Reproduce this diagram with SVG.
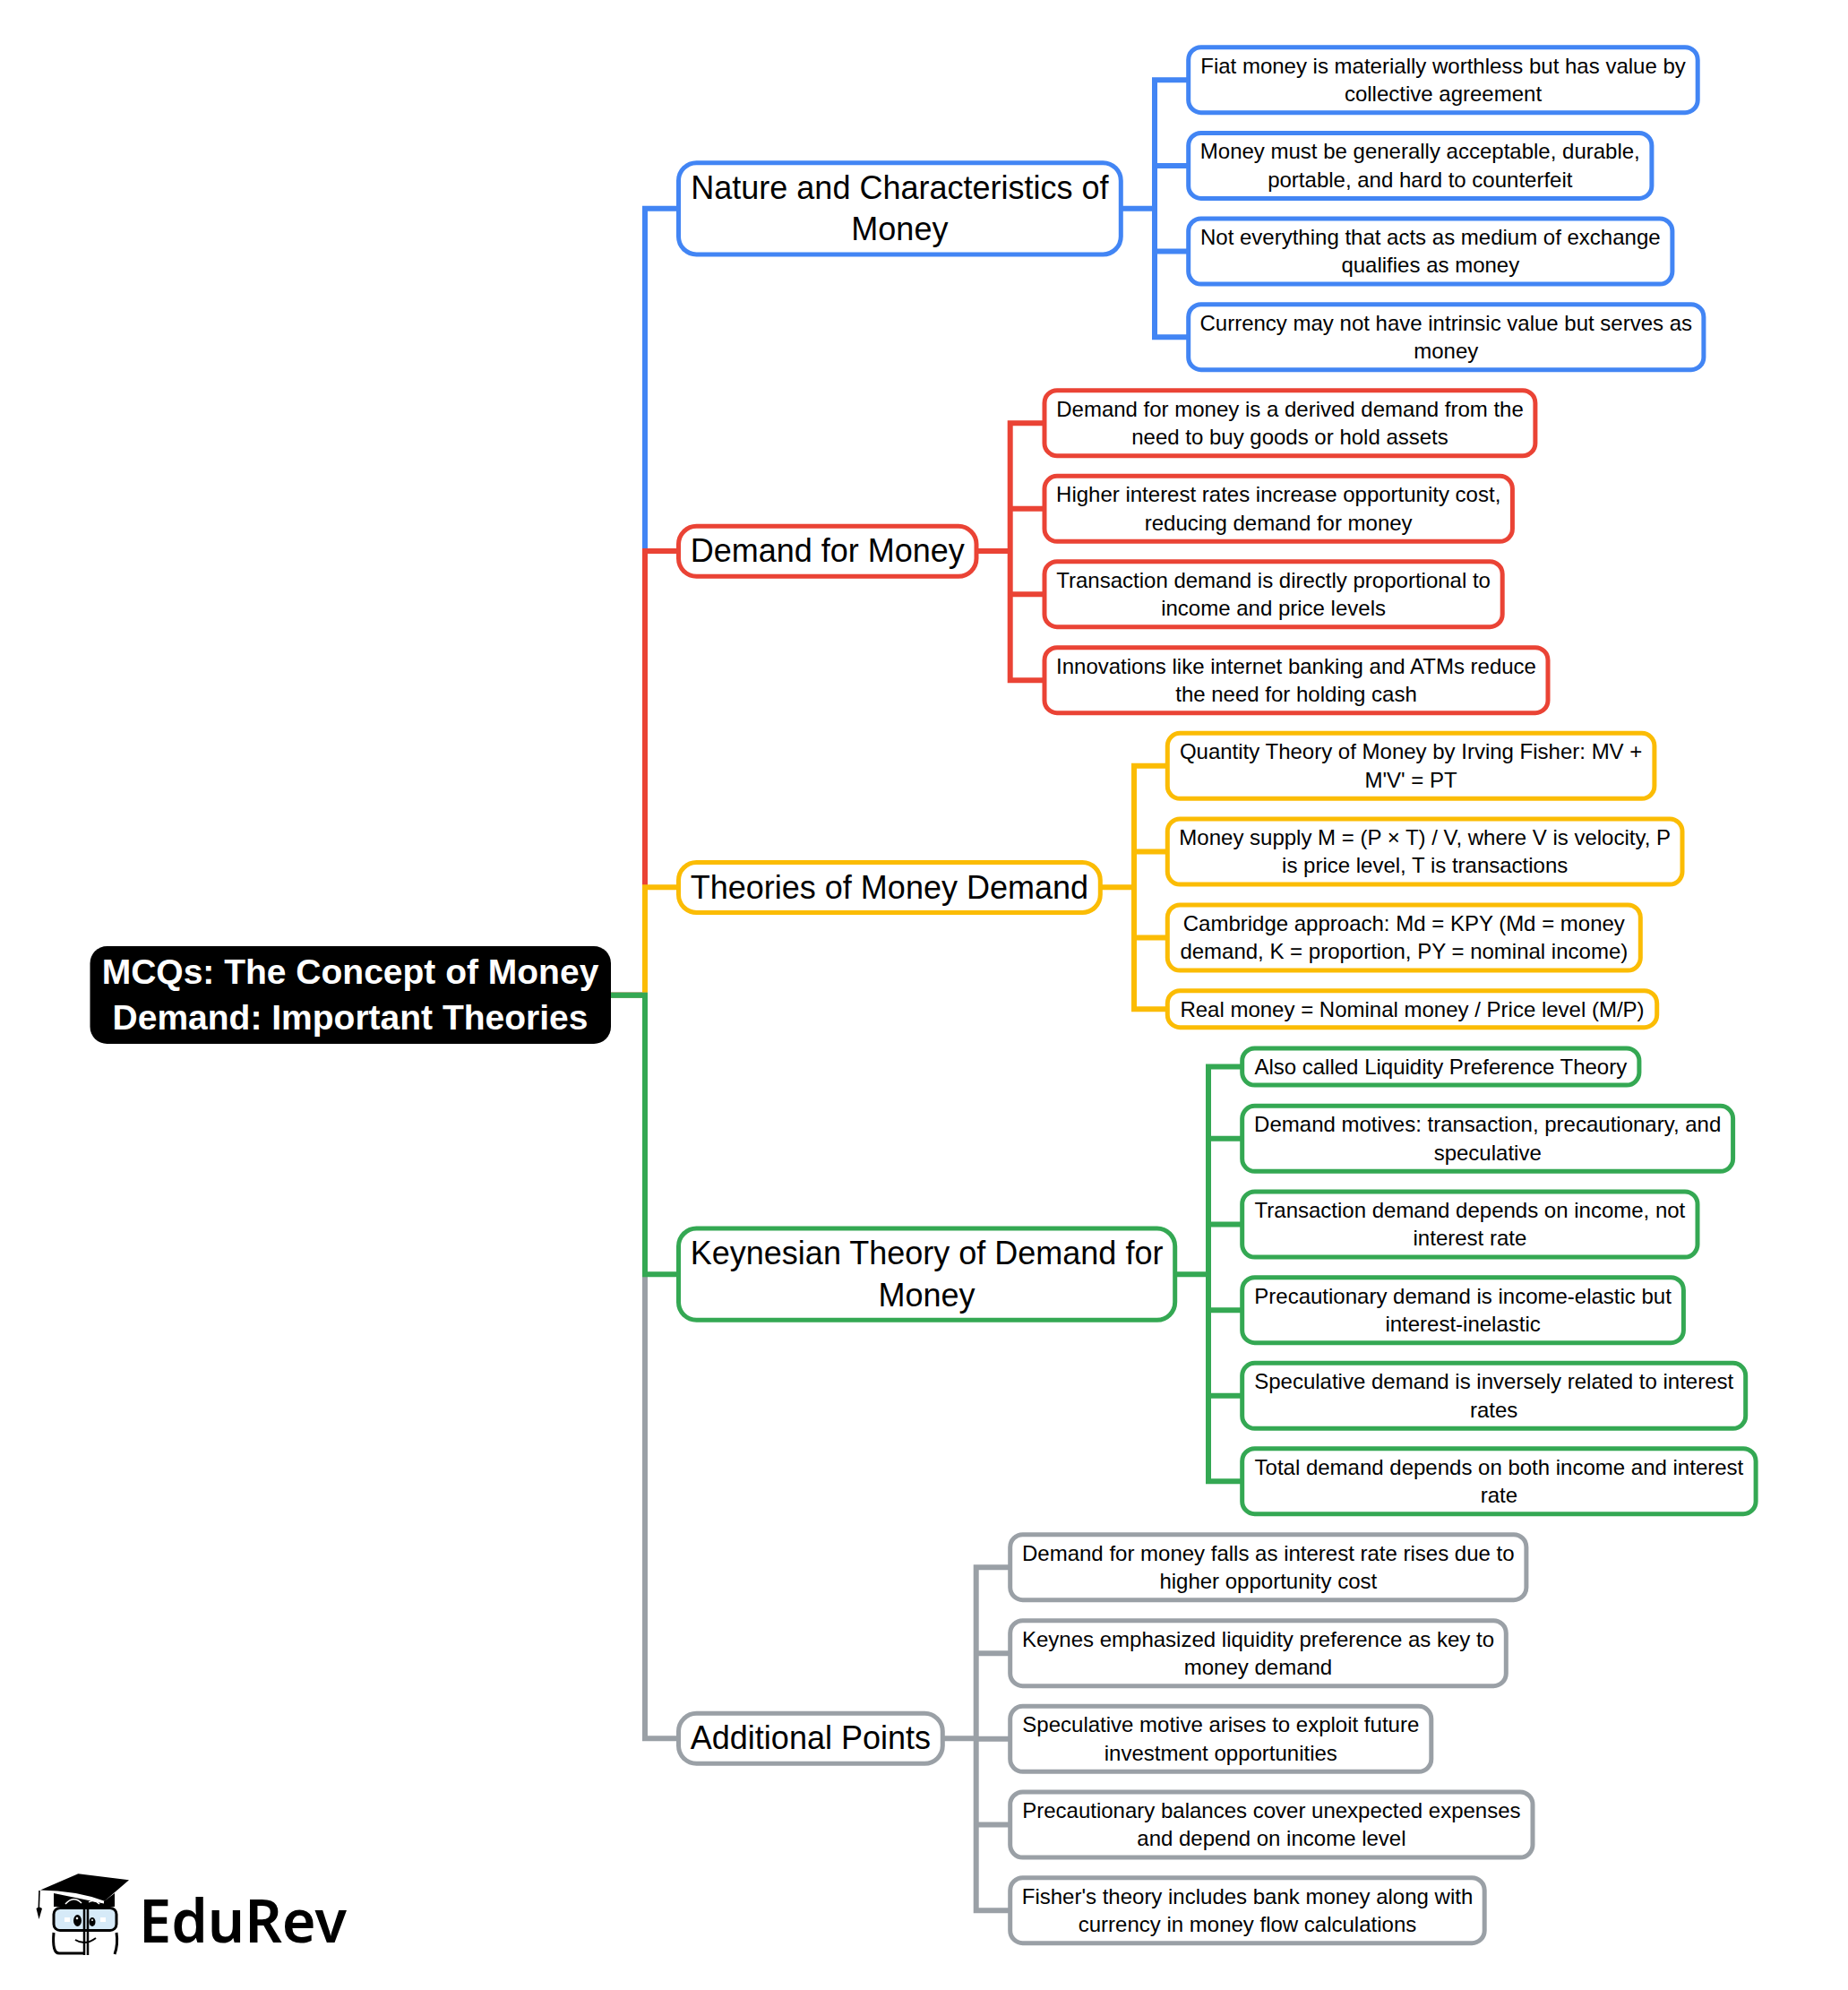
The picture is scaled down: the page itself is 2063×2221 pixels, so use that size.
<svg xmlns="http://www.w3.org/2000/svg" width="2063" height="2221" viewBox="0 0 2063 2221">
<style>
text{font-family:"Liberation Sans",Arial,sans-serif;fill:#000;text-anchor:middle}
.leaf text{font-size:24px}
.leaf rect{fill:#fff;stroke-width:5}
.main text{font-size:36px}
.main rect{fill:#fff;stroke-width:5}
.c{fill:none;stroke-width:6;stroke-linejoin:miter}
.blue rect{stroke:#4285F4}.red rect{stroke:#EA4335}.yellow rect{stroke:#FBBC04}.green rect{stroke:#34A853}.gray rect{stroke:#9AA0A6}
.cb{stroke:#4285F4}.cr{stroke:#EA4335}.cy{stroke:#FBBC04}.cg{stroke:#34A853}.ca{stroke:#9AA0A6}
</style>
<rect width="2063" height="2221" fill="#fff"/>
<g id="connectors">
<path class="c cb" d="M680,1110.7H720V232.8H758M1251,232.8H1289M1327,89.2H1289V376.2H1327M1289,184.9H1327M1289,280.5H1327"/>
<path class="c cr" d="M680,1110.7H720V615H758M1090,615H1127.7M1166,472.2H1127.7V759.2H1166M1127.7,567.8H1166M1127.7,663.2H1166"/>
<path class="c cy" d="M680,1110.7H720V990.3H758M1228,990.3H1266M1303,854.8H1266V1126.2H1303M1266,950.5H1303M1266,1046.5H1303"/>
<path class="c ca" d="M680,1110.7H720V1940.3H758M1052,1940.3H1089.7M1127.7,1749.2H1089.7V2132.2H1127.7M1089.7,1845.2H1127.7M1089.7,1940.8H1127.7M1089.7,2036.5H1127.7"/>
<path class="c cg" d="M680,1110.7H720V1422.3H758M1311,1422.3H1349M1386.7,1190.5H1349V1653.2H1386.7M1349,1270.8H1386.7M1349,1366.5H1386.7M1349,1462.2H1386.7M1349,1557.8H1386.7"/>
</g>
<g id="root"><rect x="100.5" y="1056" width="581.5" height="109" rx="19" fill="#000"/>
<text x="391" y="1098" font-size="39" font-weight="700" style="fill:#fff">MCQs: The Concept of Money</text>
<text x="391" y="1149" font-size="39" font-weight="700" style="fill:#fff">Demand: Important Theories</text></g>

<g id="n1" class="main blue"><rect x="757.5" y="181.7" width="493.8" height="102.3" rx="20"/><text x="1004.4" y="222">Nature and Characteristics of</text><text x="1004.4" y="268">Money</text></g>
<g id="n2" class="main red"><rect x="757.5" y="587.3" width="332.5" height="56" rx="20"/><text x="923.8" y="627.3">Demand for Money</text></g>
<g id="n3" class="main yellow"><rect x="757.5" y="962.5" width="470.8" height="56" rx="20"/><text x="992.9" y="1002.7">Theories of Money Demand</text></g>
<g id="n4" class="main green"><rect x="757.5" y="1371" width="554.2" height="102.3" rx="20"/><text x="1034.6" y="1411.3">Keynesian Theory of Demand for</text><text x="1034.6" y="1458">Money</text></g>
<g id="n5" class="main gray"><rect x="757.5" y="1912.3" width="294.8" height="56" rx="20"/><text x="904.9" y="1952.3">Additional Points</text></g>

<g id="b1" class="leaf blue"><rect x="1326.7" y="52.7" width="568.5" height="73" rx="14"/><text x="1611" y="81.7">Fiat money is materially worthless but has value by</text><text x="1611" y="112.8">collective agreement</text></g>
<g id="b2" class="leaf blue"><rect x="1326.7" y="148.4" width="517.2" height="73" rx="14"/><text x="1585.3" y="177.3">Money must be generally acceptable, durable,</text><text x="1585.3" y="208.5">portable, and hard to counterfeit</text></g>
<g id="b3" class="leaf blue"><rect x="1326.7" y="244" width="540.2" height="73" rx="14"/><text x="1596.8" y="273">Not everything that acts as medium of exchange</text><text x="1596.8" y="304.2">qualifies as money</text></g>
<g id="b4" class="leaf blue"><rect x="1326.7" y="339.7" width="575.2" height="73" rx="14"/><text x="1614.3" y="368.7">Currency may not have intrinsic value but serves as</text><text x="1614.3" y="399.9">money</text></g>

<g id="r1" class="leaf red"><rect x="1166" y="435.7" width="547.9" height="73" rx="14"/><text x="1440" y="464.7">Demand for money is a derived demand from the</text><text x="1440" y="495.9">need to buy goods or hold assets</text></g>
<g id="r2" class="leaf red"><rect x="1166" y="531.3" width="522.4" height="73" rx="14"/><text x="1427.2" y="560.3">Higher interest rates increase opportunity cost,</text><text x="1427.2" y="591.5">reducing demand for money</text></g>
<g id="r3" class="leaf red"><rect x="1166" y="626.7" width="511.2" height="73" rx="14"/><text x="1421.6" y="655.7">Transaction demand is directly proportional to</text><text x="1421.6" y="686.9">income and price levels</text></g>
<g id="r4" class="leaf red"><rect x="1166" y="722.7" width="562" height="73" rx="14"/><text x="1447" y="751.7">Innovations like internet banking and ATMs reduce</text><text x="1447" y="782.9">the need for holding cash</text></g>

<g id="y1" class="leaf yellow"><rect x="1303.3" y="818.3" width="543.6" height="73" rx="14"/><text x="1575.1" y="847.3">Quantity Theory of Money by Irving Fisher: MV +</text><text x="1575.1" y="878.5">M'V' = PT</text></g>
<g id="y2" class="leaf yellow"><rect x="1303.3" y="914" width="574.7" height="73" rx="14"/><text x="1590.7" y="943">Money supply M = (P × T) / V, where V is velocity, P</text><text x="1590.7" y="974.2">is price level, T is transactions</text></g>
<g id="y3" class="leaf yellow"><rect x="1303.3" y="1010" width="528" height="73" rx="14"/><text x="1567.3" y="1039">Cambridge approach: Md = KPY (Md = money</text><text x="1567.3" y="1070.2">demand, K = proportion, PY = nominal income)</text></g>
<g id="y4" class="leaf yellow"><rect x="1303.3" y="1105.7" width="546.4" height="41" rx="14"/><text x="1576.5" y="1134.7">Real money = Nominal money / Price level (M/P)</text></g>

<g id="g1" class="leaf green"><rect x="1386.7" y="1170" width="443.2" height="41" rx="14"/><text x="1608.3" y="1199">Also called Liquidity Preference Theory</text></g>
<g id="g2" class="leaf green"><rect x="1386.7" y="1234.3" width="547.9" height="73" rx="14"/><text x="1660.7" y="1263.3">Demand motives: transaction, precautionary, and</text><text x="1660.7" y="1294.5">speculative</text></g>
<g id="g3" class="leaf green"><rect x="1386.7" y="1330" width="508.3" height="73" rx="14"/><text x="1640.9" y="1359">Transaction demand depends on income, not</text><text x="1640.9" y="1390.2">interest rate</text></g>
<g id="g4" class="leaf green"><rect x="1386.7" y="1425.7" width="492.7" height="73" rx="14"/><text x="1633.1" y="1454.7">Precautionary demand is income-elastic but</text><text x="1633.1" y="1485.9">interest-inelastic</text></g>
<g id="g5" class="leaf green"><rect x="1386.7" y="1521.3" width="562" height="73" rx="14"/><text x="1667.7" y="1550.3">Speculative demand is inversely related to interest</text><text x="1667.7" y="1581.5">rates</text></g>
<g id="g6" class="leaf green"><rect x="1386.7" y="1616.7" width="573.4" height="73" rx="14"/><text x="1673.4" y="1645.7">Total demand depends on both income and interest</text><text x="1673.4" y="1676.9">rate</text></g>

<g id="a1" class="leaf gray"><rect x="1127.7" y="1712.7" width="576.2" height="73" rx="14"/><text x="1415.8" y="1741.7">Demand for money falls as interest rate rises due to</text><text x="1415.8" y="1772.9">higher opportunity cost</text></g>
<g id="a2" class="leaf gray"><rect x="1127.7" y="1808.7" width="553.6" height="73" rx="14"/><text x="1404.5" y="1837.7">Keynes emphasized liquidity preference as key to</text><text x="1404.5" y="1868.9">money demand</text></g>
<g id="a3" class="leaf gray"><rect x="1127.7" y="1904.3" width="470.1" height="73" rx="14"/><text x="1362.8" y="1933.3">Speculative motive arises to exploit future</text><text x="1362.8" y="1964.5">investment opportunities</text></g>
<g id="a4" class="leaf gray"><rect x="1127.7" y="2000" width="583.3" height="73" rx="14"/><text x="1419.4" y="2029">Precautionary balances cover unexpected expenses</text><text x="1419.4" y="2060.2">and depend on income level</text></g>
<g id="a5" class="leaf gray"><rect x="1127.7" y="2095.7" width="529.5" height="73" rx="14"/><text x="1392.5" y="2124.7">Fisher's theory includes bank money along with</text><text x="1392.5" y="2155.9">currency in money flow calculations</text></g>

<g id="logo">
<path d="M60,2113 L128,2127 L128,2128 L60,2128Z" fill="#000"/>
<path d="M116,2122 L128,2113 V2128 H116Z" fill="#000"/>
<path d="M45,2109.5 L87.3,2091.3 L144,2098.3 L116.7,2121.7 Q85,2110 45,2109.5Z" fill="#000"/>
<path d="M73,2125 Q82,2115 91,2124 M99,2123 Q105,2119 111,2125" fill="none" stroke="#fff" stroke-width="1.5"/>
<path d="M44,2110 L43.3,2130" stroke="#000" stroke-width="1.6" fill="none"/>
<path d="M40.5,2130 Q43.5,2127 47,2130 L43.5,2142Z" fill="#000"/>
<rect x="60" y="2129.5" width="70" height="25" rx="7" fill="#d6eaf8" stroke="#000" stroke-width="3"/>
<path d="M94,2129V2182M98,2129V2182" stroke="#000" stroke-width="2.5" fill="none"/>
<path d="M60,2157Q58,2180 66,2180H93M130,2157Q132,2170 128,2181" fill="none" stroke="#000" stroke-width="3"/>
<ellipse cx="86.5" cy="2143.5" rx="4.5" ry="6.5" fill="#000"/><ellipse cx="103" cy="2145" rx="3.5" ry="5" fill="#000"/>
<circle cx="86" cy="2141" r="1.3" fill="#fff"/><circle cx="103" cy="2143" r="1" fill="#fff"/>
<rect x="72" y="2140" width="6" height="5" fill="#fff"/><rect x="112" y="2140" width="6" height="5" fill="#fff"/>
<path d="M84,2165Q95,2172 107,2163" fill="none" stroke="#000" stroke-width="2"/>
<text x="155" y="2168.3" font-size="67" font-weight="600" textLength="232" lengthAdjust="spacingAndGlyphs" style="font-family:'Noto Sans','Open Sans',sans-serif;text-anchor:start">EduRev</text>
</g>
</svg>
